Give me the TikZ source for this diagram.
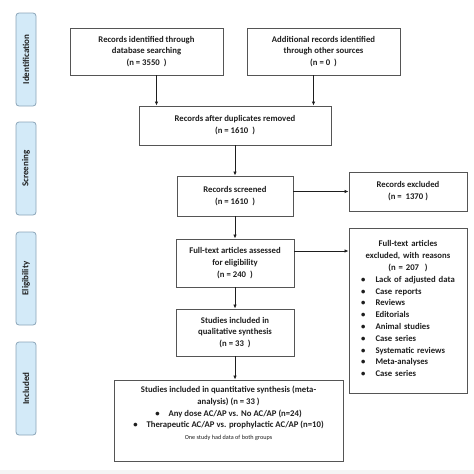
\documentclass[tikz,border=0pt]{standalone}
\usepackage{fontspec}
\setmainfont{Carlito}
\usetikzlibrary{arrows.meta}
\definecolor{txt}{HTML}{1E1E1E}
\definecolor{boxline}{HTML}{555555}
\definecolor{sidefill}{HTML}{D3EAF8}
\definecolor{sideline}{HTML}{8AA4B8}
\tikzset{
  flowbox/.style={draw=boxline, line width=0.9pt, rectangle, align=center, inner sep=2pt,
    font=\fontsize{8.7}{11.8}\selectfont\bfseries, text=txt},
  sidebox/.style={draw=sideline, fill=sidefill, line width=0.8pt, rounded corners=3pt,
    minimum width=20pt, minimum height=93pt, inner sep=0pt},
  sidetext/.style={rotate=90, font=\fontsize{9}{10}\selectfont\bfseries, text=txt},
  arr/.style={draw=txt, line width=0.8pt, -{Latex[length=4pt,width=3.5pt]}}
}
\begin{document}
\begin{tikzpicture}[x=1pt,y=-1pt]
\useasboundingbox (0,0) rectangle (474,474);
\fill[gray!8] (0,470) rectangle (474,474);
% side labels
\node[sidebox] (s1) at (26,59.5) {};
\node[sidetext] (t1) at (s1) {Identification};
\node[sidebox] (s2) at (26,168.5) {};
\node[sidetext] (t2) at (s2) {Screening};
\node[sidebox] (s3) at (26,278.5) {};
\node[sidetext] (t3) at (s3) {Eligibility};
\node[sidebox] (s4) at (26,388.5) {};
\node[sidetext] (t4) at (s4) {Included};
% boxes
\node[flowbox, minimum width=153pt, minimum height=47pt] (b1) at (146.5,51.5)
  {Records identified through\\database searching\\(n = 3550~~)};
\node[flowbox, minimum width=153pt, minimum height=47pt] (b2) at (323.5,51.5)
  {Additional records identified\\through other sources\\(n = 0~~)};
\node[flowbox, minimum width=192pt, minimum height=39pt] (b3) at (235,125.5)
  {Records after duplicates removed\\(n = 1610~~)};
\node[flowbox, minimum width=116pt, minimum height=40pt] (b4) at (235,196)
  {Records screened\\(n = 1610~~)};
\node[flowbox, minimum width=118pt, minimum height=39pt] (bx1) at (408,191.5)
  {Records excluded\\(n =~ 1370~)};
\node[flowbox, minimum width=118pt, minimum height=48pt] (b5) at (235,263)
  {Full-text articles assessed\\for eligibility\\(n = 240~~)};
\node[flowbox, minimum width=118pt, minimum height=165pt, text width=114pt] (bx2) at (408,310.5)
  {Full-text articles\\excluded, with reasons\\(n = 207~~)\\
   \begin{tabular}[t]{@{}l@{\hspace{10pt}}l@{}}
   \textbullet & Lack of adjusted data\\
   \textbullet & Case reports\\
   \textbullet & Reviews\\
   \textbullet & Editorials\\
   \textbullet & Animal studies\\
   \textbullet & Case series\\
   \textbullet & Systematic reviews\\
   \textbullet & Meta-analyses\\
   \textbullet & Case series
   \end{tabular}};
\node[flowbox, minimum width=118pt, minimum height=47pt] (b6) at (235,332.5)
  {Studies included in\\qualitative synthesis\\(n = 33~~)};
\node[flowbox, minimum width=229pt, minimum height=81pt] (b7) at (228.5,420.5)
  {Studies included in quantitative synthesis (meta-\\analysis) (n = 33 )\\
   \textbullet\hspace{9pt}Any dose AC/AP vs. No AC/AP (n=24)\\
   \textbullet\hspace{9pt}Therapeutic AC/AP vs. prophylactic AC/AP (n=10)\\
   {\fontsize{6.2}{8}\selectfont\mdseries One study had data of both groups}\\ \strut};
% connectors
\path ([xshift=10pt]b1.south) coordinate (p1);
\path ([xshift=-10pt]b2.south) coordinate (p2);
\draw[arr] (p1) -- (p1 |- b3.north);
\draw[arr] (p2) -- (p2 |- b3.north);
\draw[arr] (b3.south) -- (b4.north);
\draw[arr] (b4.east |- bx1.west) -- (bx1.west);
\draw[arr] (b4.south) -- (b5.north);
\path ([yshift=12pt]b5.east) coordinate (p3);
\draw[arr] (p3) -- (p3 -| bx2.west);
\draw[arr] (b5.south) -- (b6.north);
\draw[arr] (b6.south) -- (b6.south |- b7.north);
\end{tikzpicture}
\end{document}
